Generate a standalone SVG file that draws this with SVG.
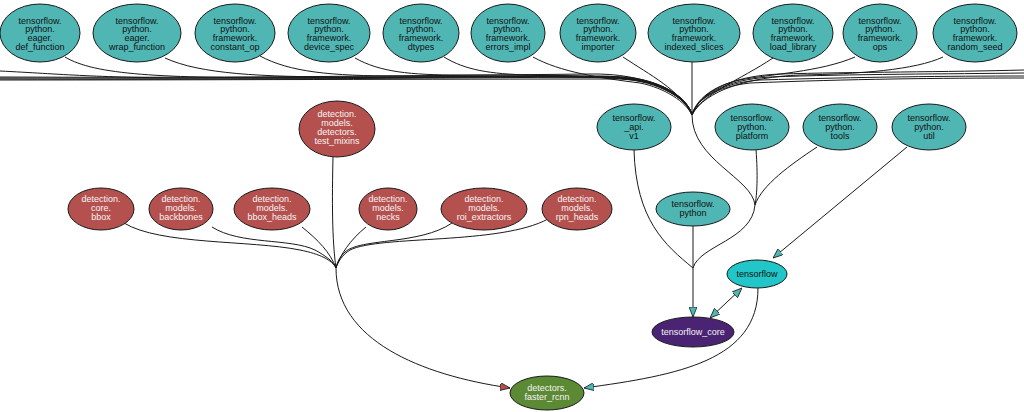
<svg xmlns="http://www.w3.org/2000/svg" width="1024" height="412" viewBox="0 0 1024 412">
<style>
.n ellipse{stroke:#1a1a1a;stroke-width:1}
.teal{fill:#4fb6b4}
.red{fill:#b4514f}
.green{fill:#5b8934}
.purple{fill:#4a2373}
.cyan{fill:#22c5c8}
text{font-family:"Liberation Sans",Arial,sans-serif;font-size:9px;text-anchor:middle}
.d{fill:#111}
.w{fill:#f4f4f4}
#edges path{fill:none;stroke:#1a1a1a;stroke-width:1}
</style>
<defs>
<marker id="at" viewBox="0 0 10 8" refX="10" refY="4" markerWidth="10" markerHeight="8" markerUnits="userSpaceOnUse" orient="auto-start-reverse"><path d="M0,0 L10,4 L0,8 z" fill="#4fb6b4" stroke="#1a1a1a" stroke-width="0.8"/></marker>
<marker id="ar" viewBox="0 0 10 8" refX="10" refY="4" markerWidth="10" markerHeight="8" markerUnits="userSpaceOnUse" orient="auto"><path d="M0,0 L10,4 L0,8 z" fill="#b4514f" stroke="#1a1a1a" stroke-width="0.8"/></marker>
</defs>
<rect width="1024" height="412" fill="#fff"/>
<g id="edges">
<path d="M 0,71 C 60,74 100,78 200,78 C 400,78 590,74 640,80 C 668,85 688,100 692,115"/>
<path d="M 0,78 C 200,79 400,77 600,76 C 650,76 686,95 692,115"/>
<path d="M 0,79 C 200,80 420,78 610,77 C 655,78 687,98 692,115"/>
<path d="M 0,80 C 200,80 430,79 620,79 C 660,81 688,100 692,115"/>
<path d="M 0,77 C 200,78 400,76 590,74 C 645,73 685,92 692,115"/>
<path d="M 65,57 C 95,75 160,78 300,78 C 450,78 580,75 625,77 C 662,80 688,98 692,115"/>
<path d="M 165,58 C 200,74 260,77 350,77 C 480,77 590,76 630,78 C 664,82 688,99 692,115"/>
<path d="M 260,56 C 290,72 330,76 400,76 C 500,76 590,76 635,79 C 666,83 688,100 692,115"/>
<path d="M 355,58 C 380,72 410,75 460,75 C 540,75 600,76 637,80 C 666,84 688,100 692,115"/>
<path d="M 444,57 C 465,70 490,74 530,75 C 590,76 620,77 645,82 C 670,87 688,100 692,115"/>
<path d="M 533,57 C 560,72 600,78 640,83 C 665,88 686,102 692,115"/>
<path d="M 623,57 C 650,75 680,90 692,115"/>
<path d="M 692,62 L 692,115"/>
<path d="M 773,58 C 740,80 700,95 692,115"/>
<path d="M 855,57 C 820,72 770,74 740,80 C 712,86 696,100 692,115"/>
<path d="M 943,57 C 915,70 860,74 800,75 C 750,77 705,90 692,115"/>
<path d="M 1024,70 C 950,72 850,72 780,74 C 730,76 700,92 692,115"/>
<path d="M 1024,73 C 950,74 850,74 770,77 C 725,80 698,95 692,115"/>
<path d="M 1024,76 C 950,76 860,77 760,80 C 720,83 697,98 692,115"/>
<path d="M 1024,78 C 940,78 850,79 750,83 C 715,87 696,100 692,115"/>
<path d="M 692,115 C 692,160 752,178 755,205"/>
<path d="M 756,150 C 758,175 757,195 755,205"/>
<path d="M 817,147 C 790,165 762,185 755,205"/>
<path d="M 755,205 C 752,240 700,245 693,268"/>
<path d="M 634,150 C 636,220 665,245 693,268"/>
<path d="M 693,226 L 693,268"/>
<path d="M 693,268 L 693,317" marker-end="url(#at)"/>
<path d="M 907,147 L 773,258" marker-end="url(#at)"/>
<path d="M 710,318 L 742,288" marker-start="url(#at)" marker-end="url(#at)"/>
<path d="M 758,288 C 758,360 680,375 584,388" marker-end="url(#at)"/>
<path d="M 124,223 C 160,245 250,240 300,250 C 320,254 332,260 336,268"/>
<path d="M 212,227 C 240,245 290,238 315,250 C 326,256 334,262 336,268"/>
<path d="M 302,227 C 318,240 330,252 336,268"/>
<path d="M 333,157 C 332,200 332,240 336,268"/>
<path d="M 366,227 C 350,240 340,255 336,268"/>
<path d="M 452,223 C 420,245 360,238 345,252 C 340,257 337,262 336,268"/>
<path d="M 548,219 C 500,245 380,235 350,250 C 342,255 338,262 336,268"/>
<path d="M 336,268 C 336,340 420,375 510,388" marker-end="url(#ar)"/>
</g>
<g id="def_function" class="n"><ellipse class="teal" cx="40" cy="33" rx="40" ry="29"/><text class="d" x="40" y="23.5">tensorflow.<tspan x="40" dy="8.7">python.</tspan><tspan x="40" dy="8.7">eager.</tspan><tspan x="40" dy="8.7">def_function</tspan></text></g>
<g id="wrap_function" class="n"><ellipse class="teal" cx="137" cy="33" rx="44" ry="29"/><text class="d" x="137" y="23.5">tensorflow.<tspan x="137" dy="8.7">python.</tspan><tspan x="137" dy="8.7">eager.</tspan><tspan x="137" dy="8.7">wrap_function</tspan></text></g>
<g id="constant_op" class="n"><ellipse class="teal" cx="235" cy="33" rx="40" ry="29"/><text class="d" x="235" y="23.5">tensorflow.<tspan x="235" dy="8.7">python.</tspan><tspan x="235" dy="8.7">framework.</tspan><tspan x="235" dy="8.7">constant_op</tspan></text></g>
<g id="device_spec" class="n"><ellipse class="teal" cx="329" cy="33" rx="41" ry="29"/><text class="d" x="329" y="23.5">tensorflow.<tspan x="329" dy="8.7">python.</tspan><tspan x="329" dy="8.7">framework.</tspan><tspan x="329" dy="8.7">device_spec</tspan></text></g>
<g id="dtypes" class="n"><ellipse class="teal" cx="421" cy="33" rx="38" ry="29"/><text class="d" x="421" y="23.5">tensorflow.<tspan x="421" dy="8.7">python.</tspan><tspan x="421" dy="8.7">framework.</tspan><tspan x="421" dy="8.7">dtypes</tspan></text></g>
<g id="errors_impl" class="n"><ellipse class="teal" cx="508" cy="33" rx="37" ry="29"/><text class="d" x="508" y="23.5">tensorflow.<tspan x="508" dy="8.7">python.</tspan><tspan x="508" dy="8.7">framework.</tspan><tspan x="508" dy="8.7">errors_impl</tspan></text></g>
<g id="importer" class="n"><ellipse class="teal" cx="598" cy="33" rx="38" ry="29"/><text class="d" x="598" y="23.5">tensorflow.<tspan x="598" dy="8.7">python.</tspan><tspan x="598" dy="8.7">framework.</tspan><tspan x="598" dy="8.7">importer</tspan></text></g>
<g id="indexed_slices" class="n"><ellipse class="teal" cx="694" cy="33" rx="46" ry="29"/><text class="d" x="694" y="23.5">tensorflow.<tspan x="694" dy="8.7">python.</tspan><tspan x="694" dy="8.7">framework.</tspan><tspan x="694" dy="8.7">indexed_slices</tspan></text></g>
<g id="load_library" class="n"><ellipse class="teal" cx="793" cy="33" rx="40" ry="29"/><text class="d" x="793" y="23.5">tensorflow.<tspan x="793" dy="8.7">python.</tspan><tspan x="793" dy="8.7">framework.</tspan><tspan x="793" dy="8.7">load_library</tspan></text></g>
<g id="ops" class="n"><ellipse class="teal" cx="880" cy="33" rx="37" ry="29"/><text class="d" x="880" y="23.5">tensorflow.<tspan x="880" dy="8.7">python.</tspan><tspan x="880" dy="8.7">framework.</tspan><tspan x="880" dy="8.7">ops</tspan></text></g>
<g id="random_seed" class="n"><ellipse class="teal" cx="975" cy="33" rx="42" ry="29"/><text class="d" x="975" y="23.5">tensorflow.<tspan x="975" dy="8.7">python.</tspan><tspan x="975" dy="8.7">framework.</tspan><tspan x="975" dy="8.7">random_seed</tspan></text></g>
<g id="api_v1" class="n"><ellipse class="teal" cx="634" cy="127" rx="37" ry="23"/><text class="d" x="634" y="121">tensorflow.<tspan x="634" dy="9">_api.</tspan><tspan x="634" dy="9">v1</tspan></text></g>
<g id="platform" class="n"><ellipse class="teal" cx="752" cy="127" rx="37" ry="23"/><text class="d" x="752" y="121">tensorflow.<tspan x="752" dy="9">python.</tspan><tspan x="752" dy="9">platform</tspan></text></g>
<g id="tools" class="n"><ellipse class="teal" cx="840" cy="127" rx="37" ry="23"/><text class="d" x="840" y="121">tensorflow.<tspan x="840" dy="9">python.</tspan><tspan x="840" dy="9">tools</tspan></text></g>
<g id="util" class="n"><ellipse class="teal" cx="929" cy="127" rx="37" ry="23"/><text class="d" x="929" y="121">tensorflow.<tspan x="929" dy="9">python.</tspan><tspan x="929" dy="9">util</tspan></text></g>
<g id="tf_python" class="n"><ellipse class="teal" cx="693" cy="209" rx="37" ry="17"/><text class="d" x="693" y="207">tensorflow.<tspan x="693" dy="9">python</tspan></text></g>
<g id="tensorflow" class="n"><ellipse class="cyan" cx="757" cy="274" rx="30" ry="14"/><text class="d" x="757" y="277">tensorflow</text></g>
<g id="tensorflow_core" class="n"><ellipse class="purple" cx="693" cy="332" rx="41" ry="15"/><text class="w" x="693" y="335">tensorflow_core</text></g>
<g id="faster_rcnn" class="n"><ellipse class="green" cx="547" cy="393" rx="37" ry="17"/><text class="w" x="547" y="391">detectors.<tspan x="547" dy="9">faster_rcnn</tspan></text></g>
<g id="test_mixins" class="n"><ellipse class="red" cx="337" cy="129" rx="38" ry="28"/><text class="w" x="337" y="117">detection.<tspan x="337" dy="9">models.</tspan><tspan x="337" dy="9">detectors.</tspan><tspan x="337" dy="9">test_mixins</tspan></text></g>
<g id="bbox" class="n"><ellipse class="red" cx="101" cy="209" rx="33" ry="21"/><text class="w" x="101" y="202">detection.<tspan x="101" dy="9">core.</tspan><tspan x="101" dy="9">bbox</tspan></text></g>
<g id="backbones" class="n"><ellipse class="red" cx="181" cy="209" rx="32" ry="21"/><text class="w" x="181" y="202">detection.<tspan x="181" dy="9">models.</tspan><tspan x="181" dy="9">backbones</tspan></text></g>
<g id="bbox_heads" class="n"><ellipse class="red" cx="272" cy="209" rx="38" ry="21"/><text class="w" x="272" y="202">detection.<tspan x="272" dy="9">models.</tspan><tspan x="272" dy="9">bbox_heads</tspan></text></g>
<g id="necks" class="n"><ellipse class="red" cx="388" cy="209" rx="29" ry="21"/><text class="w" x="388" y="202">detection.<tspan x="388" dy="9">models.</tspan><tspan x="388" dy="9">necks</tspan></text></g>
<g id="roi_extractors" class="n"><ellipse class="red" cx="484" cy="209" rx="43" ry="21"/><text class="w" x="484" y="202">detection.<tspan x="484" dy="9">models.</tspan><tspan x="484" dy="9">roi_extractors</tspan></text></g>
<g id="rpn_heads" class="n"><ellipse class="red" cx="577" cy="209" rx="35" ry="21"/><text class="w" x="577" y="202">detection.<tspan x="577" dy="9">models.</tspan><tspan x="577" dy="9">rpn_heads</tspan></text></g>
</svg>
